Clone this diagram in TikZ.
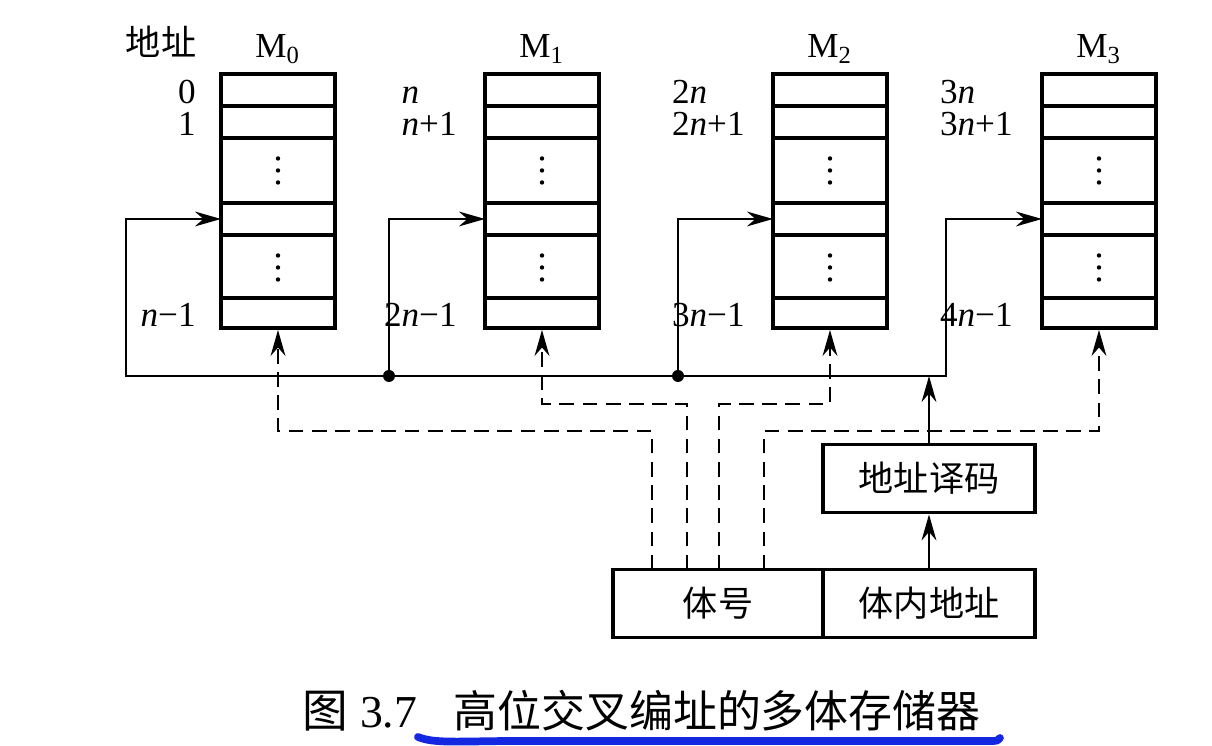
\documentclass[tikz,border=0pt]{standalone}
\usepackage{fontspec}
\setmainfont{Liberation Serif}
\newfontfamily\cjk{Noto Sans CJK SC}
\usetikzlibrary{arrows.meta}
\definecolor{pen}{RGB}{20,40,225}

\tikzset{
    bank/.style={draw, line width=1.1pt, minimum width=1.14cm, minimum height=2.54cm, inner sep=0pt},
    unit/.style={draw, line width=1.1pt, minimum height=0.68cm, inner sep=0pt, font=\cjk\fontsize{10}{12}\selectfont},
    wire/.style={line width=0.7pt},
    dashwire/.style={line width=0.7pt, dash pattern=on 4.2pt off 2.4pt},
    arr/.style={-{Stealth[length=7.4pt,width=4.2pt,inset=2.4pt]}},
    arrboth/.style={{Stealth[length=7.4pt,width=4.2pt,inset=2.4pt]}-{Stealth[length=7.4pt,width=4.2pt,inset=2.4pt]}}
}

\begin{document}
\begin{tikzpicture}[font=\fontsize{10}{12}\selectfont]
    \useasboundingbox (0,0) rectangle (12.12,7.46);

    \node[font=\cjk\fontsize{10}{12}\selectfont] (addr) at (1.61,7.04) {地址};

    % four memory banks
    \foreach \i/\x in {0/2.21,1/4.85,2/7.73,3/10.42} {
        \node[bank] (m\i) at (\x+0.57,5.45) {};
        \foreach \y in {6.40,6.08,5.43,5.11,4.48}
            \draw[line width=1.1pt] (\x,\y) -- ++(1.14,0);
        \foreach \y in {5.755,4.785}
            \foreach \d in {-0.12,0,0.12}
                \fill (\x+0.57,\y+\d) circle (0.022);
        \node[anchor=base] (t\i) at (\x+0.57,6.88) {M\textsubscript{\i}};
        \coordinate (in\i) at (\x,5.27);
    }

    % addresses beside the banks
    \foreach \i/\s/\x/\a/\b/\c in {
        0/east/2.08/0/1/\textit{n}−1,
        1/west/4.69/\textit{n}/\textit{n}+1/2\textit{n}−1,
        2/west/7.57/2\textit{n}/2\textit{n}+1/3\textit{n}−1,
        3/west/10.25/3\textit{n}/3\textit{n}+1/4\textit{n}−1} {
        \node[anchor=base east] (b\i) at (\x,6.10) {\b};
        \node[anchor=base \s, yshift=0.32cm] (a\i) at (b\i.base \s) {\a};
        \node[anchor=base east] (c\i) at (\x,4.19) {\c};
    }

    % address word and decoder
    \node[unit, minimum width=2.10cm] (sel) at (7.18,1.425) {体号};
    \node[unit, minimum width=2.12cm] (off) at (9.29,1.425) {体内地址};
    \node[unit, minimum width=2.12cm] (dec) at (9.29,2.675) {地址译码};

    % address bus
    \coordinate (bl) at (1.26,3.70);
    \coordinate (br) at (9.46,3.70);
    \coordinate (j1) at (3.89,3.70);
    \coordinate (j2) at (6.78,3.70);
    \coordinate (jd) at (9.29,3.70);
    \draw[wire, arrboth] (in0) -| (bl) -- (br) |- (in3);
    \draw[wire, arr] (j1) |- (in1);
    \draw[wire, arr] (j2) |- (in2);
    \fill (j1) circle (0.06);
    \fill (j2) circle (0.06);
    \draw[wire, arr] (off) -- (dec);
    \draw[wire, arr] (dec) -- (jd);

    % bank select lines
    \foreach \i/\x/\y in {0/6.52/3.15,1/6.87/3.42,2/7.19/3.42,3/7.64/3.15} {
        \coordinate (s\i) at (\x,1.765);
        \draw[dashwire, arr] (s\i) -- (\x,\y) -| (m\i.south);
    }

    % caption
    \node (fig) at (3.60,0.35) {\fontsize{13}{15}\selectfont{\cjk 图} 3.7};
    \node[font=\cjk\fontsize{12.5}{15}\selectfont] (cap) at (7.17,0.35) {高位交叉编址的多体存储器};
    \draw[pen, line width=2.2pt, line cap=round] (4.18,0.09) .. controls (4.35,0.02) and (4.6,0.05) .. (5.2,0.05) -- (9.9,0.05) .. controls (9.97,0.05) .. (10.0,0.08);
\end{tikzpicture}
\end{document}
